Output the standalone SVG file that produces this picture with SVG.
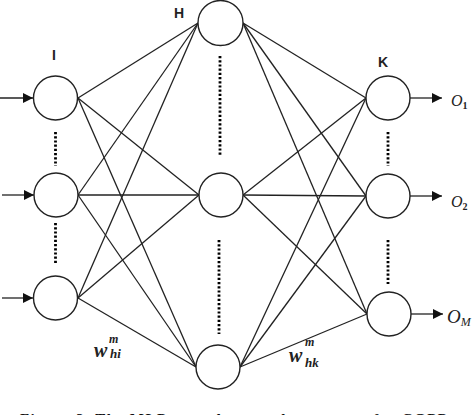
<svg xmlns="http://www.w3.org/2000/svg" width="474" height="415" viewBox="0 0 474 415">
<defs>
<style>
.node{fill:#fff;stroke:#222;stroke-width:1.4}
.edge{stroke:#222;stroke-width:1.3;fill:none}
.dots{stroke:#000;stroke-width:2.8;stroke-dasharray:2.2 2;fill:none}
.lbl{font-family:"Liberation Sans",Arial,sans-serif;font-weight:bold;font-size:14px;fill:#222}
.math{font-family:"Liberation Serif","Times New Roman",serif;font-style:italic;fill:#222}
.cap{font-family:"Liberation Serif","Times New Roman",serif;font-weight:bold;font-size:15px;fill:#111}
</style>
<marker id="arr" viewBox="0 0 10 10" refX="10" refY="5" markerWidth="10" markerHeight="10" markerUnits="userSpaceOnUse" orient="auto">
<path d="M0,0 L10,5 L0,10 z" fill="#111"/>
</marker>
</defs>
<rect width="474" height="415" fill="#fff"/>
<g id="connectors">
<line class="edge" x1="78" y1="98" x2="198" y2="23"/>
<line class="edge" x1="78" y1="98" x2="199" y2="195"/>
<line class="edge" x1="78" y1="98" x2="196" y2="367"/>
<line class="edge" x1="78" y1="195" x2="198" y2="23"/>
<line class="edge" x1="78" y1="195" x2="199" y2="195"/>
<line class="edge" x1="78" y1="195" x2="196" y2="367"/>
<line class="edge" x1="78" y1="298" x2="198" y2="23"/>
<line class="edge" x1="78" y1="298" x2="199" y2="195"/>
<line class="edge" x1="78" y1="298" x2="196" y2="367"/>
<line class="edge" x1="243" y1="23" x2="366" y2="98"/>
<line class="edge" x1="243" y1="23" x2="366" y2="196"/>
<line class="edge" x1="243" y1="23" x2="367" y2="314"/>
<line class="edge" x1="243" y1="195" x2="366" y2="98"/>
<line class="edge" x1="243" y1="195" x2="366" y2="196"/>
<line class="edge" x1="243" y1="195" x2="367" y2="314"/>
<line class="edge" x1="240" y1="367" x2="366" y2="98"/>
<line class="edge" x1="240" y1="367" x2="366" y2="196"/>
<line class="edge" x1="240" y1="367" x2="367" y2="314"/>
<line class="edge" x1="0" y1="98" x2="33" y2="98" marker-end="url(#arr)"/>
<line class="edge" x1="2" y1="195" x2="34" y2="195" marker-end="url(#arr)"/>
<line class="edge" x1="2" y1="298" x2="33" y2="298" marker-end="url(#arr)"/>
<line class="edge" x1="410" y1="98" x2="442" y2="98" marker-end="url(#arr)"/>
<line class="edge" x1="410" y1="196" x2="442" y2="196" marker-end="url(#arr)"/>
<line class="edge" x1="411" y1="314" x2="443" y2="314" marker-end="url(#arr)"/>
</g>
<g id="dots">
<line class="dots" x1="55.5" y1="132" x2="55.5" y2="166"/>
<line class="dots" x1="55.5" y1="223" x2="55.5" y2="264"/>
<line class="dots" x1="220" y1="56" x2="220" y2="156"/>
<line class="dots" x1="219" y1="240" x2="219" y2="334"/>
<line class="dots" x1="388" y1="132" x2="388" y2="166"/>
<line class="dots" x1="388" y1="240" x2="388" y2="284"/>
</g>
<g id="I1"><circle class="node" cx="55.5" cy="98" r="22"/></g>
<g id="I2"><circle class="node" cx="56" cy="195" r="22"/></g>
<g id="I3"><circle class="node" cx="55.5" cy="298" r="22"/></g>
<g id="H1"><circle class="node" cx="220.5" cy="23" r="22.5"/></g>
<g id="H2"><circle class="node" cx="221" cy="195" r="22"/></g>
<g id="H3"><circle class="node" cx="218" cy="367" r="22"/></g>
<g id="K1"><circle class="node" cx="388" cy="98" r="22"/></g>
<g id="K2"><circle class="node" cx="388" cy="196" r="22"/></g>
<g id="K3"><circle class="node" cx="389" cy="314" r="22"/></g>
<g id="labels">
<text class="lbl" x="52" y="60">I</text>
<text class="lbl" x="174" y="17.5">H</text>
<text class="lbl" x="378" y="67">K</text>
<text class="math" x="451" y="106" font-size="16">O<tspan font-size="10" font-style="normal" font-weight="bold" dy="3">1</tspan></text>
<text class="math" x="451" y="207" font-size="16">O<tspan font-size="10" font-style="normal" font-weight="bold" dy="3">2</tspan></text>
<text class="math" x="447" y="323" font-size="19">O<tspan font-size="12" dy="3">M</tspan></text>
<text class="math" x="94" y="357" font-size="20" font-weight="bold">w</text>
<text class="math" x="109" y="343" font-size="12" font-weight="bold">m</text>
<text class="math" x="110" y="358" font-size="13" font-weight="bold">hi</text>
<text class="math" x="289" y="362" font-size="20" font-weight="bold">w</text>
<text class="math" x="305" y="346" font-size="12" font-weight="bold">m</text>
<text class="math" x="305" y="367" font-size="13" font-weight="bold">hk</text>
<text class="cap" x="20" y="423.5" textLength="427" lengthAdjust="spacing">Figure 2.   The MLP neural network structure for CGPP</text>
</g>
</svg>
